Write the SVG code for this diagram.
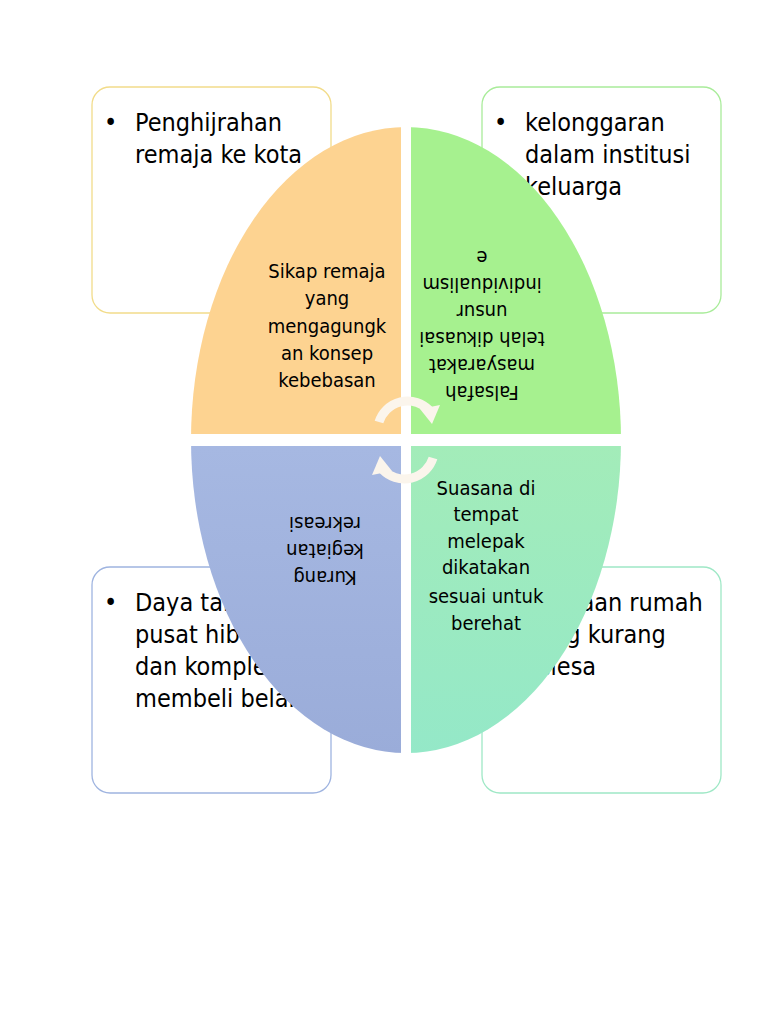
<svg xmlns="http://www.w3.org/2000/svg" width="768" height="1024" viewBox="0 0 768 1024">
<style>
.b{font-family:"DejaVu Sans Condensed","DejaVu Sans",sans-serif;font-size:25px;fill:#000}
.q{font-family:"DejaVu Sans Condensed","DejaVu Sans",sans-serif;font-size:20px;fill:#000;text-anchor:middle}
.box{fill:#fff;stroke-width:1.3}
.arc{fill:none;stroke:#fbf5ec;stroke-width:9}
</style>
<defs>
<clipPath id="ell"><ellipse cx="406" cy="440" rx="215" ry="313"/></clipPath>
<linearGradient id="gbr" x1="0" y1="0" x2="0" y2="1"><stop offset="0" stop-color="#a3ecb9"/><stop offset="1" stop-color="#94e8c8"/></linearGradient>
<linearGradient id="gbl" x1="0" y1="0" x2="0" y2="1"><stop offset="0" stop-color="#a6b8e2"/><stop offset="1" stop-color="#9aacd9"/></linearGradient>
</defs>
<g id="box-tl"><rect class="box" x="92" y="87" width="239" height="226" rx="18" stroke="#f2dc8a"/>
<text class="b" x="104" y="131">•</text><text class="b" x="135" y="131">Penghijrahan</text><text class="b" x="135" y="163">remaja ke kota</text></g>
<g id="box-tr"><rect class="box" x="482" y="87" width="239" height="226" rx="18" stroke="#a9ec9a"/>
<text class="b" x="494" y="131">•</text><text class="b" x="525" y="131">kelonggaran</text><text class="b" x="525" y="163">dalam institusi</text><text class="b" x="525" y="195">keluarga</text></g>
<g id="box-bl"><rect class="box" x="92" y="567" width="239" height="226" rx="18" stroke="#9fb4e0"/>
<text class="b" x="104" y="611">•</text><text class="b" x="135" y="611">Daya tarikan</text><text class="b" x="135" y="643">pusat hiburan</text><text class="b" x="135" y="675">dan kompleks</text><text class="b" x="135" y="707">membeli belah</text></g>
<g id="box-br"><rect class="box" x="482" y="567" width="239" height="226" rx="18" stroke="#9fe8c6"/>
<text class="b" x="494" y="611">•</text><text class="b" x="525" y="611">Keadaan rumah</text><text class="b" x="525" y="643">yang kurang</text><text class="b" x="525" y="675">selesa</text></g>
<g id="ellipse" clip-path="url(#ell)">
<rect x="190" y="120" width="211" height="314" fill="#fdd391"/>
<rect x="411" y="120" width="215" height="314" fill="#a6f18f"/>
<rect x="190" y="446" width="211" height="310" fill="url(#gbl)"/>
<rect x="411" y="446" width="215" height="310" fill="url(#gbr)"/>
</g>
<g id="q-tl"><text class="q" x="327" y="278">Sikap remaja</text><text class="q" x="327" y="305">yang</text><text class="q" x="327" y="333">mengagungk</text><text class="q" x="327" y="360">an konsep</text><text class="q" x="327" y="387">kebebasan</text></g>
<g id="q-tr" transform="rotate(180 482 326)"><text class="q" x="482" y="266">Falsafah</text><text class="q" x="482" y="293">masyarakat</text><text class="q" x="482" y="320">telah dikuasai</text><text class="q" x="482" y="347">unsur</text><text class="q" x="482" y="374">individualism</text><text class="q" x="482" y="401">e</text></g>
<g id="q-bl" transform="rotate(180 325 550)"><text class="q" x="325" y="529">Kurang</text><text class="q" x="325" y="556">kegiatan</text><text class="q" x="325" y="583">rekreasi</text></g>
<g id="q-br"><text class="q" x="486" y="495">Suasana di</text><text class="q" x="486" y="521">tempat</text><text class="q" x="486" y="548">melepak</text><text class="q" x="486" y="574">dikatakan</text><text class="q" x="486" y="603">sesuai untuk</text><text class="q" x="486" y="630">berehat</text></g>
<g id="connectors">
<path class="arc" d="M379 422 A30 30 0 0 1 429 410"/>
<polygon points="420,409 440,405 432,424" fill="#fbf5ec"/>
<path class="arc" d="M433 458 A30 30 0 0 1 383 470"/>
<polygon points="392,471 372,475 380,456" fill="#fbf5ec"/>
</g>
</svg>
